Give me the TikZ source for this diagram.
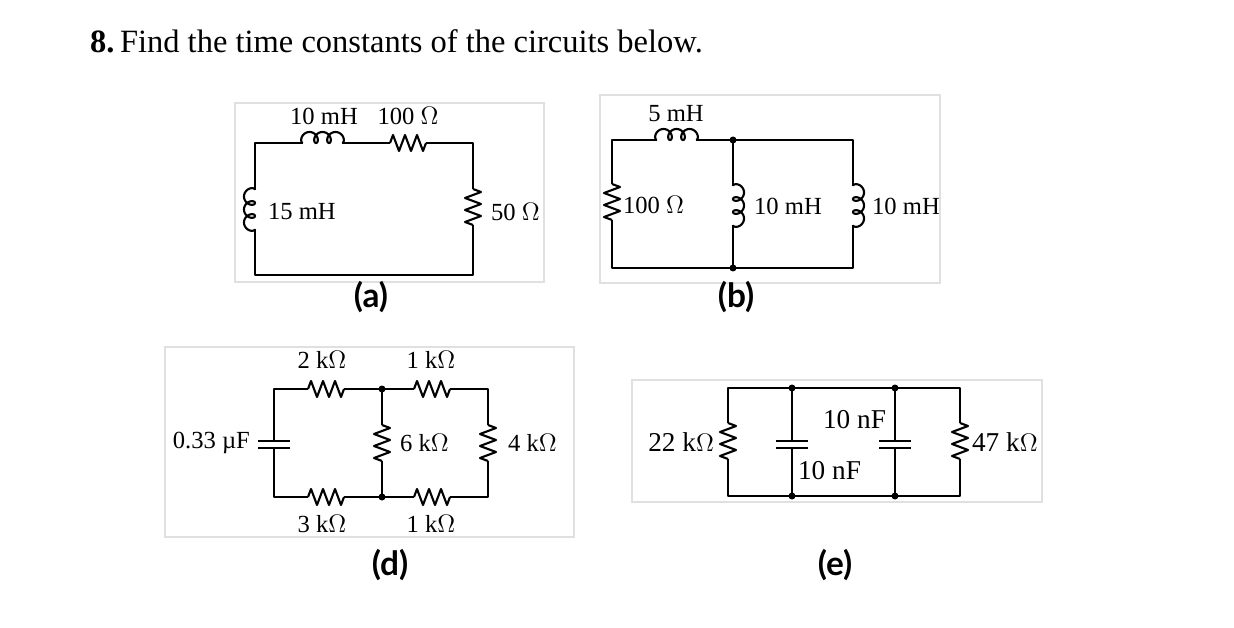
\documentclass[tikz,border=0pt]{standalone}
\usepackage{fontspec}
\setmainfont{Liberation Serif}
\newfontfamily\lbl{Lato}
\newcommand\myres[3]{\begin{scope}[shift={(#1,#2)},rotate=#3]\draw[wire] (0,0)--(3,-8)--(9,8)--(15,-8)--(21,8)--(27,-8)--(33,8)--(36,0);\end{scope}}
\newcommand\myind[3]{\begin{scope}[shift={(#1,#2)},rotate=#3]\draw[wire] plot[domain=0:18.85,samples=150,smooth] ({2.07*\x-4.6*sin(\x r)},{-5.5*(1-cos(\x r))});\end{scope}}
\newcommand\mycapv[2]{\draw[wire] (#1-16,#2-3.5)--(#1+16,#2-3.5) (#1-16,#2+3.5)--(#1+16,#2+3.5);}
\begin{document}
\begin{tikzpicture}[x=0.02cm,y=-0.02cm,wire/.style={line width=1.2pt,line join=round},
 lab/.style={font=\fontsize{14}{16}\selectfont,inner sep=1pt},
 elab/.style={font=\fontsize{15.5}{18}\selectfont,inner sep=1pt},
 plab/.style={font=\lbl\bfseries\fontsize{19}{21}\selectfont},
 box/.style={draw=black!12,line width=0.8pt},
 dot/.style={fill=black}]
\useasboundingbox (0,0) rectangle (1234,628);
\node[anchor=west,font=\fontsize{18.5}{22}\selectfont] (title) at (84,41) {\textbf{8.}\,Find the time constants of the circuits below.};
% (a)
\draw[box] (235,103) rectangle (544,282);
\draw[wire] (255,190)--(255,143)--(303,143);
\myind{303}{143}{0}
\draw[wire] (342,143)--(390,143);
\myres{390}{143}{0}
\draw[wire] (426,143)--(473,143)--(473,189);
\myres{473}{189}{-90}
\draw[wire] (473,225)--(473,275)--(255,275)--(255,229);
\myind{255}{229}{90}
\node[lab] (a1) at (324,116) {10 mH};
\node[lab] (a2) at (408,116) {100 $\Omega$};
\node[lab,anchor=west] (a3) at (266,212) {15 mH};
\node[lab,anchor=west] (a4) at (489,212) {50 $\Omega$};
\node[plab] (la) at (371,297) {(a)};
% (b)
\draw[box] (600,95) rectangle (940,283);
\draw[wire] (612,184)--(612,140)--(657,140);
\myind{657}{140}{0}
\draw[wire] (696,140)--(853,140)--(853,186);
\draw[wire] (733,140)--(733,186);
\myind{733}{186}{-90}
\myind{853}{186}{-90}
\myres{612}{184}{-90}
\draw[wire] (612,220)--(612,268)--(853,268)--(853,225) (733,268)--(733,225);
\fill[dot] (733,140) circle (3.5) (733,268) circle (3.5);
\node[lab] (b1) at (676,114) {5 mH};
\node[lab,anchor=west] (b2) at (621,205) {100 $\Omega$};
\node[lab,anchor=west] (b3) at (752,206) {10 mH};
\node[lab,anchor=west] (b4) at (870,206) {10 mH};
\node[plab] (lb) at (736,297) {(b)};
% (d)
\draw[box] (165,347) rectangle (574,537);
\draw[wire] (274,441)--(274,389)--(308,389);
\myres{308}{389}{0}
\draw[wire] (344,389)--(414,389);
\myres{414}{389}{0}
\draw[wire] (450,389)--(488,389)--(488,425);
\myres{488}{425}{-90}
\draw[wire] (488,461)--(488,497)--(450,497);
\myres{414}{497}{0}
\draw[wire] (414,497)--(344,497);
\myres{308}{497}{0}
\draw[wire] (308,497)--(274,497)--(274,448);
\mycapv{274}{444.5}
\draw[wire] (382,389)--(382,425) (382,461)--(382,497);
\myres{382}{425}{-90}
\fill[dot] (382,389) circle (3.5) (382,497) circle (3.5);
\node[lab] (d1) at (322,360) {2 k$\Omega$};
\node[lab] (d2) at (431,360) {1 k$\Omega$};
\node[lab,anchor=east] (d0) at (252,443) {0.33 µF};
\node[lab,anchor=west] (d3) at (398,443) {6 k$\Omega$};
\node[lab,anchor=west] (d4) at (506,443) {4 k$\Omega$};
\node[lab] (d5) at (322,524) {3 k$\Omega$};
\node[lab] (d6) at (431,524) {1 k$\Omega$};
\node[plab] (ld) at (390,565) {(d)};
% (e)
\draw[box] (632,380) rectangle (1042,502);
\draw[wire] (728,423)--(728,388)--(960,388)--(960,423);
\myres{728}{423}{-90}
\myres{960}{423}{-90}
\draw[wire] (728,459)--(728,496)--(960,496)--(960,459);
\draw[wire] (792,388)--(792,441) (792,448)--(792,496);
\draw[wire] (895,388)--(895,441) (895,448)--(895,496);
\mycapv{792}{444.5}
\mycapv{895}{444.5}
\fill[dot] (792,388) circle (3.5) (895,388) circle (3.5) (792,496) circle (3.5) (895,496) circle (3.5);
\node[elab,anchor=east] (e1) at (716,442) {22 k$\Omega$};
\node[elab,anchor=east] (e2) at (888,420) {10 nF};
\node[elab,anchor=west] (e3) at (796,471) {10 nF};
\node[elab,anchor=west] (e4) at (970,442) {47 k$\Omega$};
\node[plab] (le) at (835,565) {(e)};
\end{tikzpicture}
\end{document}
